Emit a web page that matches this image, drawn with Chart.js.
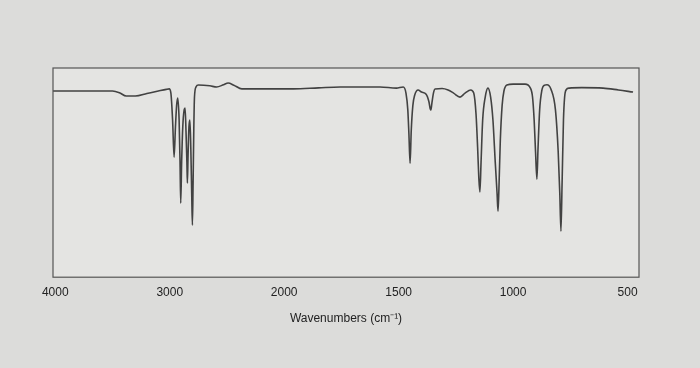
<!DOCTYPE html>
<html>
<head>
<meta charset="utf-8">
<script src="https://cdn.jsdelivr.net/npm/chart.js@4.4.1/dist/chart.umd.min.js"></script>
<style>
  html, body { margin: 0; padding: 0; background: #dcdcda; }
  #wrap { width: 700px; height: 368px; position: relative; }
</style>
</head>
<body>
<div id="wrap"><canvas id="grafico" width="700" height="368"></canvas></div>
<script>
// espectro IR - numero de onda (cm-1) e transmitancia (%)
const wavenumbers = [
  4020, 3800, 3500, 3440, 3380, 3300, 3200, 3100, 3030, 3005,
  2990, 2975, 2962, 2950, 2940, 2930, 2918, 2910, 2904, 2896,
  2886, 2874, 2866, 2858, 2850, 2846, 2840, 2832, 2824, 2816,
  2808, 2802, 2796, 2790, 2784, 2770, 2750, 2650, 2590, 2530,
  2490, 2440, 2370, 2250, 2100, 1960, 1850, 1756, 1650, 1581,
  1510, 1480, 1468, 1460, 1455, 1450, 1445, 1438, 1430, 1415,
  1400, 1380, 1368, 1362, 1359, 1355, 1348, 1341, 1310, 1284,
  1260, 1232, 1210, 1185, 1172, 1162, 1155, 1150, 1145, 1140,
  1133, 1122, 1110, 1098, 1088, 1078, 1070, 1066, 1062, 1056,
  1048, 1040, 1027, 1000, 948, 925, 915, 908, 902, 896,
  891, 884, 875, 862, 852, 835, 815, 803, 796, 791,
  786, 780, 775, 768, 755, 700, 607, 540, 476
]
const transmittance = [
  89.0, 89.0, 89.0, 88.2, 86.6, 86.6, 87.8, 89.0, 89.8, 90.0,
  88.0, 75.0, 57.4, 72.0, 82.0, 85.6, 75.0, 55.0, 35.4, 55.0,
  72.0, 80.0, 80.9, 70.0, 55.0, 45.0, 58.0, 72.0, 75.1, 62.0,
  40.0, 24.9, 45.0, 70.0, 86.0, 91.0, 91.9, 91.5, 90.9, 92.0,
  92.8, 91.8, 90.0, 90.0, 90.0, 90.0, 90.5, 90.9, 90.9, 90.9,
  90.4, 90.9, 88.0, 80.0, 68.0, 54.5, 70.0, 82.0, 87.0, 89.5,
  88.5, 87.5, 84.0, 80.5, 79.9, 83.0, 88.0, 90.0, 90.2, 89.5,
  88.0, 86.1, 88.0, 89.5, 88.0, 78.0, 62.0, 48.0, 40.7, 55.0,
  75.0, 86.0, 90.4, 86.0, 75.0, 55.0, 40.0, 31.6, 42.0, 65.0,
  82.0, 89.0, 91.9, 92.3, 92.3, 90.5, 86.0, 75.0, 60.0, 46.9,
  62.0, 80.0, 89.0, 91.8, 92.0, 90.0, 80.0, 60.0, 40.0, 22.0,
  45.0, 75.0, 86.0, 89.6, 90.4, 90.6, 90.4, 89.5, 88.5
]
const tickWavenumbers = [4000, 3000, 2000, 1500, 1000, 500]
const tickLabels = ['4000', '3000', '2000', '1500', '1000', '500']

// eixo com escala dupla: acima de 2000 cm-1 a escala e comprimida pela metade
function posicao(w) {
  return w >= 2000 ? (4000 - w) / 2 : 1000 + (2000 - w)
}

// desenha a moldura e o fundo da area do grafico
const moldura = {
  id: 'moldura',
  beforeDatasetsDraw(chart) {
    const a = chart.chartArea
    const ctx = chart.ctx
    ctx.save()
    ctx.fillStyle = '#e4e4e2'
    ctx.fillRect(a.left, a.top, a.right - a.left, a.bottom - a.top)
    ctx.restore()
  },
  afterDatasetsDraw(chart) {
    const a = chart.chartArea
    const ctx = chart.ctx
    ctx.save()
    ctx.strokeStyle = '#555'
    ctx.lineWidth = 1.2
    ctx.strokeRect(a.left, a.top, a.right - a.left, a.bottom - a.top)
    ctx.restore()
  }
}

const g = new Chart(document.getElementById('grafico'), {
  type: 'line',
  data: {
    datasets: [{
      data: wavenumbers.map((w, i) => ({ x: posicao(w), y: transmittance[i] })),
      borderColor: '#424242',
      borderWidth: 1.6,
      pointRadius: 0,
      cubicInterpolationMode: 'monotone',
      fill: false
    }]
  },
  options: {
    responsive: false,
    animation: false,
    devicePixelRatio: 1,
    layout: { padding: { left: 53, right: 61, top: 68, bottom: 42 } },
    plugins: { legend: { display: false }, tooltip: { enabled: false } },
    scales: {
      x: {
        type: 'linear',
        min: posicao(4020),
        max: posicao(450),
        grid: { display: false, drawTicks: false },
        border: { display: false },
        afterBuildTicks(axis) {
          axis.ticks = tickWavenumbers.map(w => ({ value: posicao(w) }))
        },
        ticks: {
          padding: 8,
          color: '#222',
          font: { family: 'Liberation Sans', size: 12 },
          maxRotation: 0,
          callback: (v, i) => tickLabels[i]
        },
        title: {
          display: true,
          text: 'Wavenumbers (cm⁻¹)',
          color: '#222',
          font: { family: 'Liberation Sans', size: 12 },
          padding: { top: 4, bottom: 0 }
        }
      },
      y: {
        display: false,
        min: 0,
        max: 100
      }
    }
  },
  plugins: [moldura]
})
</script>
</body>
</html>
